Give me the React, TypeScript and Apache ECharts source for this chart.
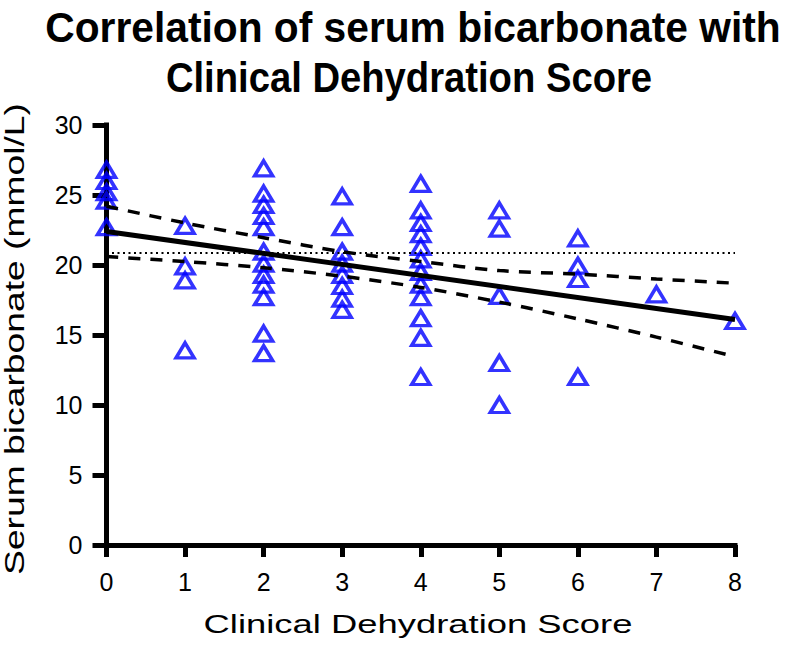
import { useEffect, useRef } from 'react'
import * as echarts from 'echarts'

// Clinical Dehydration Score columns and the bicarbonate values plotted at each
const SCORES = [0, 1, 2, 3, 4, 5, 6, 7, 8]
const BICARB_BY_SCORE = [
  [26.8, 26, 25.2, 24.6, 22.7],
  [22.8, 19.9, 18.9, 13.9],
  [26.9, 25.1, 24.3, 23.5, 22.7, 20.95, 20.1, 19.3, 18.6, 17.7, 15.1, 13.7],
  [24.9, 22.7, 20.95, 20.1, 19.3, 18.5, 17.6, 16.8],
  [25.8, 23.9, 23.0, 22.2, 21.3, 20.4, 19.5, 18.6, 17.7, 16.2, 14.8, 12],
  [23.9, 22.6, 17.8, 13, 10],
  [21.9, 19.95, 19, 12],
  [17.9],
  [16.0],
]

// linear fit and its 95% confidence band, read at each score
const FIT_X = [0, 8]
const FIT_Y = [22.4, 16.1]
const CI_UPPER = [24.2, 23.0, 21.95, 20.95, 20.25, 19.6, 19.35, 19.0, 18.7]
const CI_LOWER = [20.6, 20.25, 19.8, 19.2, 18.4, 17.35, 16.15, 14.85, 13.45]
const MEAN_BICARB = 20.85

const FONT = "'Liberation Sans', Arial, Helvetica, sans-serif"

export default function App() {
  const ref = useRef<HTMLDivElement>(null)

  useEffect(() => {
    if (!ref.current) return
    document.body.style.margin = '0'
    const chart = echarts.init(ref.current, null, { renderer: 'svg' })

    const points: number[][] = []
    BICARB_BY_SCORE.forEach((vals, i) => {
      vals.forEach((v) => points.push([SCORES[i], v]))
    })

    chart.setOption({
      animation: false,
      backgroundColor: '#fff',
      grid: { left: 106.5, right: 50, top: 125, bottom: 101, containLabel: false },
      xAxis: {
        type: 'value',
        min: 0,
        max: 8,
        interval: 1,
        splitLine: { show: false },
        axisLine: { lineStyle: { color: '#000', width: 5, cap: 'square' } },
        axisTick: { show: true, length: 12, lineStyle: { color: '#000', width: 5 } },
        axisLabel: { color: '#000', fontSize: 25, fontFamily: FONT, margin: 24 },
      },
      yAxis: {
        type: 'value',
        min: 0,
        max: 30,
        interval: 5,
        splitLine: { show: false },
        axisLine: { show: true, lineStyle: { color: '#000', width: 5, cap: 'square' } },
        axisTick: { show: true, length: 14, lineStyle: { color: '#000', width: 5 } },
        axisLabel: { color: '#000', fontSize: 25, fontFamily: FONT, margin: 24 },
      },
      series: [
        {
          type: 'scatter',
          data: points,
          symbol: 'triangle',
          symbolSize: [18, 15],
          itemStyle: { color: 'transparent', borderColor: '#0000ff', borderWidth: 3.5 },
          z: 2,
        },
        {
          type: 'line',
          data: [[0, MEAN_BICARB], [8, MEAN_BICARB]],
          symbol: 'none',
          lineStyle: { color: '#000', width: 2, type: [2, 3.5] },
          z: 3,
        },
        {
          type: 'line',
          data: SCORES.map((x, i) => [x, CI_UPPER[i]]),
          symbol: 'none',
          smooth: 0.3,
          lineStyle: { color: '#000', width: 3.5, type: [12, 10] },
          z: 3,
        },
        {
          type: 'line',
          data: SCORES.map((x, i) => [x, CI_LOWER[i]]),
          symbol: 'none',
          smooth: 0.3,
          lineStyle: { color: '#000', width: 3.5, type: [12, 10] },
          z: 3,
        },
        {
          type: 'line',
          data: FIT_X.map((x, i) => [x, FIT_Y[i]]),
          symbol: 'none',
          lineStyle: { color: '#000', width: 5 },
          z: 4,
        },
      ],
      graphic: [
        {
          type: 'text',
          x: 413,
          y: 28,
          scaleX: 0.97,
          style: {
            text: 'Correlation of serum bicarbonate with',
            fontSize: 42,
            fontWeight: 'bold',
            fontFamily: FONT,
            fill: '#000',
            align: 'center',
            verticalAlign: 'middle',
          },
        },
        {
          type: 'text',
          x: 409,
          y: 78,
          scaleX: 0.91,
          style: {
            text: 'Clinical Dehydration Score',
            fontSize: 42,
            fontWeight: 'bold',
            fontFamily: FONT,
            fill: '#000',
            align: 'center',
            verticalAlign: 'middle',
          },
        },
        {
          type: 'text',
          x: 418,
          y: 624,
          scaleX: 1.4,
          style: {
            text: 'Clinical Dehydration Score',
            fontSize: 26,
            fontFamily: FONT,
            fill: '#000',
            align: 'center',
            verticalAlign: 'middle',
          },
        },
        {
          type: 'text',
          x: 15,
          y: 339,
          rotation: Math.PI / 2,
          scaleX: 1.38,
          style: {
            text: 'Serum bicarbonate (mmol/L)',
            fontSize: 27,
            fontFamily: FONT,
            fill: '#000',
            align: 'center',
            verticalAlign: 'middle',
          },
        },
      ],
    })

    return () => {
      chart.dispose()
    }
  }, [])

  return <div ref={ref} style={{ width: 785, height: 646 }} />
}
